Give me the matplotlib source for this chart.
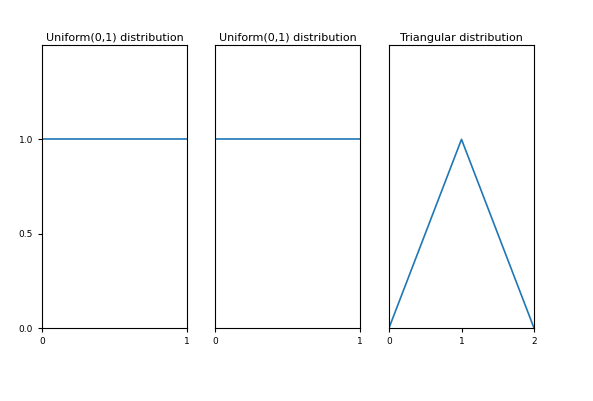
import matplotlib
matplotlib.use("Agg")
import matplotlib.pyplot as plt

titles = ["Uniform(0,1) distribution", "Uniform(0,1) distribution", "Triangular distribution"]
xs = [[0, 1], [0, 1], [0, 1, 2]]
ys = [[1, 1], [1, 1], [0, 1, 0]]
xticks = [[0, 1], [0, 1], [0, 1, 2]]
yticks = [0.0, 0.5, 1.0]

fig = plt.figure(figsize=(5.93, 4.01), dpi=100)
lefts = [42, 215, 389]
for i in range(3):
    ax = fig.add_axes([lefts[i] / 593, 73 / 401, 145 / 593, 283 / 401])
    ax.plot(xs[i], ys[i], color="#1f77b4", lw=1.2)
    ax.set_xlim(xticks[i][0], xticks[i][-1])
    ax.set_ylim(0, 1.5)
    ax.set_xticks(xticks[i])
    ax.tick_params(labelsize=6.5, length=3)
    if i == 0:
        ax.set_yticks(yticks)
        ax.set_yticklabels([f"{v:.1f}" for v in yticks])
    else:
        ax.set_yticks([])
    ax.set_title(titles[i], fontsize=8, pad=3)
fig.savefig("out.png", dpi=100)
